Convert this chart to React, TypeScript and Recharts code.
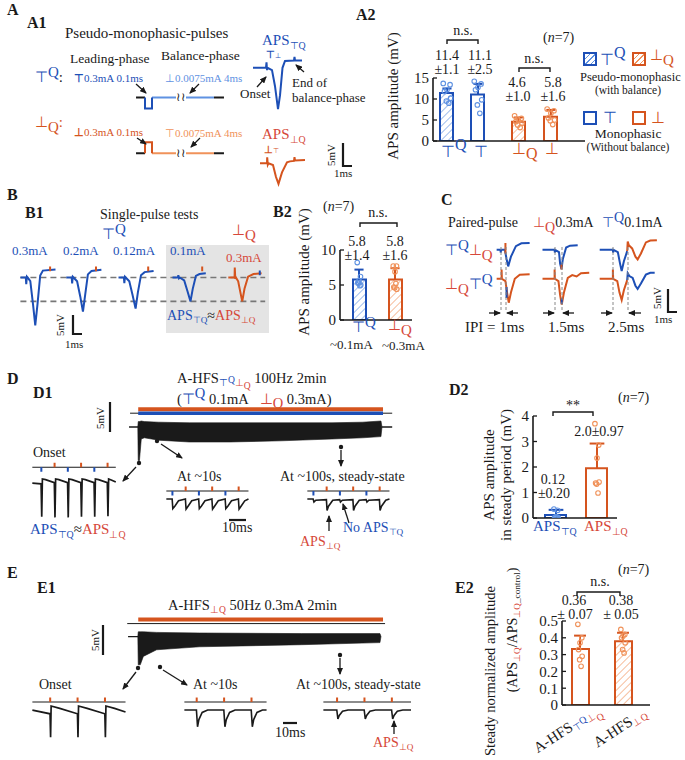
import React from "react";
import { ComposedChart, Line, Area, Bar, Scatter, XAxis, YAxis, ReferenceLine } from "recharts";

const F = "'Liberation Serif','Times New Roman',Times,serif";
const BLUE = "#1d4fb6";
const LBLUE = "#5f92e2";
const ORANGE = "#d5541e";
const LORANGE = "#f0925a";
const RED = "#d6483a";
const INK = "#1a1a1a";

type Pt = { t: number; v: number };

// ---------------- A1 data ----------------
const protoPre: Pt[] = [{ t: 0.2, v: 0 }, { t: 1.1, v: 0 }];
const protoLeadTQ: Pt[] = [{ t: 1.1, v: 0 }, { t: 1.1, v: -1 }, { t: 1.8, v: -1 }, { t: 1.8, v: 0 }];
const protoLeadBQ: Pt[] = [{ t: 1.1, v: 0 }, { t: 1.1, v: 1 }, { t: 1.8, v: 1 }, { t: 1.8, v: 0 }];
const protoBal: Pt[] = [{ t: 1.8, v: 0 }, { t: 8.0, v: 0 }];
const protoPost: Pt[] = [{ t: 8.0, v: 0 }, { t: 9.0, v: 0 }];
const apsTQ: Pt[] = [{ t: 0, v: 0 }, { t: 1.3, v: 0 }, { t: 1.35, v: 1.2 }, { t: 1.4, v: -0.5 }, { t: 1.45, v: 0 }, { t: 1.9, v: -0.5 }, { t: 2.2, v: -4 }, { t: 2.5, v: -9 }, { t: 2.7, v: -6 }, { t: 2.95, v: 0 }, { t: 3.2, v: 1.5 }, { t: 4.1, v: 1.6 }, { t: 4.15, v: 2.4 }, { t: 4.2, v: 1.6 }, { t: 4.9, v: 1.6 }];
const apsBQ: Pt[] = [{ t: 0, v: 0 }, { t: 0.7, v: 0 }, { t: 0.72, v: 1.3 }, { t: 0.78, v: -0.3 }, { t: 0.85, v: 0 }, { t: 1.3, v: -0.4 }, { t: 1.6, v: -3 }, { t: 1.85, v: -4.5 }, { t: 2.2, v: -2 }, { t: 2.7, v: 0.2 }, { t: 3.0, v: 0.4 }, { t: 3.4, v: 0.5 }, { t: 3.45, v: 1.3 }, { t: 3.5, v: 0.6 }, { t: 4.5, v: 0.7 }];

// ---------------- A2 data ----------------
const a2Cats = ["TQ", "T", "BQ", "B"];
const a2Means = [11.4, 11.1, 4.6, 5.8];
const a2Errs = [1.1, 2.5, 1.0, 1.6];
const a2Pos = [1, 2, 3.3, 4.35];
const a2Dots = [
  [13.7, 13.4, 12.2, 11.8, 10.2, 9.5, 9.0],
  [14.2, 13.6, 12.8, 12.2, 9.8, 8.6, 6.6],
  [6.0, 5.4, 5.0, 4.6, 4.2, 3.8, 3.2],
  [7.6, 7.2, 6.6, 5.5, 5.0, 4.8, 3.9],
];
const jitter = [-0.12, 0.1, 0.0, -0.08, 0.12, -0.02, 0.06];

// ---------------- B1 data ----------------
const b1T1: Pt[] = [{ t: 0, v: 0 }, { t: 0.6, v: 0 }, { t: 0.65, v: -1.8 }, { t: 0.72, v: 0.2 }, { t: 0.8, v: 0 }, { t: 1.1, v: -1 }, { t: 1.4, v: -7 }, { t: 1.65, v: -12.6 }, { t: 1.9, v: -7 }, { t: 2.2, v: 0.5 }, { t: 2.5, v: 1.8 }, { t: 3.9, v: 2.1 }];
const b1T2: Pt[] = [{ t: 0, v: 0 }, { t: 0.6, v: 0 }, { t: 0.65, v: -1.6 }, { t: 0.72, v: 0.2 }, { t: 0.8, v: 0 }, { t: 1.2, v: -1 }, { t: 1.55, v: -5 }, { t: 1.85, v: -9 }, { t: 2.1, v: -4.5 }, { t: 2.4, v: 0.8 }, { t: 2.8, v: 1.7 }, { t: 3.9, v: 2.0 }];
const b1T3: Pt[] = [{ t: 0, v: 0 }, { t: 0.6, v: 0 }, { t: 0.65, v: -1.5 }, { t: 0.72, v: 0.2 }, { t: 0.8, v: 0 }, { t: 1.2, v: -1 }, { t: 1.55, v: -4.5 }, { t: 1.9, v: -8.2 }, { t: 2.15, v: -4 }, { t: 2.5, v: 0.6 }, { t: 2.9, v: 1.4 }, { t: 3.9, v: 1.7 }];
const b1T4: Pt[] = [{ t: 0, v: 0 }, { t: 0.6, v: 0 }, { t: 0.65, v: 0.6 }, { t: 0.72, v: -0.2 }, { t: 0.8, v: 0 }, { t: 1.3, v: -0.8 }, { t: 1.65, v: -3.5 }, { t: 2.0, v: -6.3 }, { t: 2.25, v: -3 }, { t: 2.6, v: 0.4 }, { t: 3.0, v: 0.9 }, { t: 3.7, v: 1.1 }];
const b1T5: Pt[] = [{ t: 0, v: 0 }, { t: 0.7, v: 0 }, { t: 0.72, v: 2.6 }, { t: 0.78, v: -0.4 }, { t: 0.85, v: 0 }, { t: 1.1, v: -1 }, { t: 1.35, v: -4 }, { t: 1.55, v: -6.3 }, { t: 1.8, v: -3 }, { t: 2.2, v: 0.2 }, { t: 2.8, v: 0.9 }, { t: 3.7, v: 1.1 }];
const b1EndMark: Pt[] = [{ t: 3.3, v: 1.6 }, { t: 3.3, v: 2.9 }];
const b1EndMarkO: Pt[] = [{ t: 3.5, v: 0.6 }, { t: 3.5, v: 1.8 }];
const b1Offsets = [0, 5.1, 10.9, 16.9, 23.1];
const b1Levels = [0, -6.3];

// ---------------- B2 data ----------------
const b2Means = [5.8, 5.8];
const b2Errs = [1.4, 1.6];
const b2Dots = [
  [8.2, 6.2, 5.6, 5.3, 5.0, 5.3, 4.9],
  [7.7, 7.7, 6.9, 4.7, 4.4, 4.6, 5.2],
];

// ---------------- C data ----------------
const c1g1B: Pt[] = [{ t: 0, v: 0 }, { t: 0.7, v: 0 }, { t: 0.75, v: -0.6 }, { t: 0.8, v: 0 }, { t: 1.5, v: 0 }, { t: 1.8, v: -2 }, { t: 2.1, v: -3.6 }, { t: 2.6, v: -1.5 }, { t: 3.5, v: 0.8 }, { t: 4.5, v: 1.4 }, { t: 6, v: 1.5 }];
const c1g1O: Pt[] = [{ t: 1.6, v: 1.5 }, { t: 1.6, v: -0.8 }];
const c1g2B: Pt[] = [{ t: 0, v: 0 }, { t: 2.2, v: 0 }, { t: 2.25, v: -0.6 }, { t: 2.3, v: 0 }, { t: 3.0, v: -0.5 }, { t: 3.2, v: -3 }, { t: 3.45, v: -4.2 }, { t: 3.7, v: -2 }, { t: 4.3, v: 0.5 }, { t: 5.0, v: 0.9 }, { t: 6.4, v: 1.0 }];
const c1g2O: Pt[] = [{ t: 3.45, v: -3.2 }, { t: 3.45, v: -4.3 }];
const c1g3B: Pt[] = [{ t: 0, v: 0 }, { t: 2.4, v: 0 }, { t: 2.45, v: -0.6 }, { t: 2.5, v: 0 }, { t: 3.3, v: -0.5 }, { t: 3.7, v: -3 }, { t: 4.0, v: -4.6 }, { t: 4.4, v: -2.5 }, { t: 5.0, v: -0.3 }];
const c1g3O: Pt[] = [{ t: 5.0, v: -0.3 }, { t: 5.1, v: 1.8 }, { t: 5.3, v: 1.0 }, { t: 5.9, v: 0.3 }, { t: 6.5, v: -1.5 }, { t: 6.9, v: -2.1 }, { t: 7.5, v: -0.8 }, { t: 8.4, v: 1.6 }, { t: 9.2, v: 2.0 }, { t: 10.4, v: 2.1 }];
const c2g1O: Pt[] = [{ t: 0, v: 0 }, { t: 0.9, v: 0 }, { t: 0.9, v: 2.0 }, { t: 0.95, v: 0 }, { t: 1.6, v: -0.5 }, { t: 1.9, v: -3 }, { t: 2.2, v: -5.2 }, { t: 2.6, v: -3 }, { t: 3.3, v: 0 }, { t: 4.2, v: 0.9 }, { t: 6.0, v: 1.0 }];
const c2g1B: Pt[] = [{ t: 1.8, v: -1.8 }, { t: 1.8, v: -4.2 }];
const c2g2O: Pt[] = [{ t: 0, v: 0 }, { t: 2.2, v: 0 }, { t: 2.2, v: 2.0 }, { t: 2.25, v: 0 }, { t: 2.9, v: -0.5 }, { t: 3.2, v: -3.5 }, { t: 3.5, v: -5.6 }, { t: 3.9, v: -3 }, { t: 4.6, v: 0.2 }, { t: 5.4, v: 0.8 }, { t: 6.2, v: 0.5 }, { t: 7.0, v: 1.2 }, { t: 8.5, v: 1.3 }];
const c2g2B: Pt[] = [{ t: 3.5, v: -4.3 }, { t: 3.5, v: -5.4 }];
const c2g3O: Pt[] = [{ t: 0, v: 0 }, { t: 2.4, v: 0 }, { t: 2.4, v: 2.0 }, { t: 2.45, v: 0 }, { t: 3.2, v: -0.5 }, { t: 3.6, v: -3 }, { t: 4.0, v: -4.6 }, { t: 4.4, v: -2.5 }, { t: 5.0, v: -0.3 }];
const c2g3B: Pt[] = [{ t: 5.0, v: -0.3 }, { t: 5.1, v: 1.2 }, { t: 5.4, v: 0.6 }, { t: 6.0, v: 0.2 }, { t: 6.5, v: -1.5 }, { t: 6.9, v: -2.2 }, { t: 7.5, v: -1 }, { t: 8.4, v: 0.9 }, { t: 9.2, v: 1.3 }, { t: 10.0, v: 1.3 }];
const cOffsets = [0.36, 8.7, 19.1];

// ---------------- D1 data ----------------
const dBand = [
  { t: -0.2, r: [0, 0] }, { t: 0, r: [-5.6, 0.9] }, { t: 0.6, r: [-5.6, 0.9] }, { t: 1.5, r: [-2.0, 1.0] },
  { t: 3, r: [-1.8, 0.9] }, { t: 10, r: [-2.2, 0.8] }, { t: 25, r: [-2.5, 0.7] }, { t: 45, r: [-2.5, 0.7] },
  { t: 70, r: [-2.3, 0.7] }, { t: 95, r: [-2.0, 0.7] }, { t: 110, r: [-1.8, 0.8] }, { t: 119, r: [-1.6, 1.0] }, { t: 119.5, r: [0, 0] },
];
const dPre: Pt[] = [{ t: -4.5, v: 0 }, { t: 0, v: 0 }];
const dPost: Pt[] = [{ t: 119.5, v: 0 }, { t: 124.5, v: 0 }];
const dStimLine: Pt[] = [{ t: -4, v: 2.3 }, { t: 124.5, v: 2.3 }];
const dStimO: Pt[] = [{ t: 0, v: 2.95 }, { t: 120, v: 2.95 }];
const dStimB: Pt[] = [{ t: 0, v: 2.3 }, { t: 120, v: 2.3 }];
const dStimTQ = [3.4, 13.4, 23.4];
const dStimBQ = [8.4, 18.4, 28.4];
const dStimTQ2 = [2.3, 12.3, 22.3];
const dStimBQ2 = [7.3, 17.3, 27.3];
const dOnset: Pt[] = [{ t: 0, v: 0 }, { t: 3.3, v: -0.1 }, { t: 3.55, v: -5.6 }, { t: 3.8, v: 0.7 }, { t: 5, v: 0.6 }, { t: 8.3, v: 0.1 }, { t: 8.55, v: -5.7 }, { t: 8.8, v: 0.7 }, { t: 10, v: 0.6 }, { t: 13.3, v: 0.1 }, { t: 13.55, v: -5.7 }, { t: 13.8, v: 0.7 }, { t: 15, v: 0.6 }, { t: 18.3, v: 0.1 }, { t: 18.55, v: -5.6 }, { t: 18.8, v: 0.7 }, { t: 20, v: 0.6 }, { t: 23.3, v: 0.1 }, { t: 23.55, v: -5.6 }, { t: 23.8, v: 0.7 }, { t: 25, v: 0.6 }, { t: 28.3, v: 0.1 }, { t: 28.55, v: -5.5 }, { t: 28.8, v: 0.7 }, { t: 30, v: 0.5 }, { t: 31.5, v: 0.2 }];
const dTen: Pt[] = [{ t: 0, v: 0 }, { t: 2.2, v: 0 }, { t: 2.45, v: -1.6 }, { t: 3.2, v: -1.2 }, { t: 4.6, v: -0.3 }, { t: 7.2, v: 0 }, { t: 7.45, v: -1.7 }, { t: 8.2, v: -1.2 }, { t: 9.6, v: -0.3 }, { t: 12.2, v: 0 }, { t: 12.45, v: -1.6 }, { t: 13.2, v: -1.2 }, { t: 14.6, v: -0.3 }, { t: 17.2, v: 0 }, { t: 17.45, v: -1.7 }, { t: 18.2, v: -1.2 }, { t: 19.6, v: -0.3 }, { t: 22.2, v: 0 }, { t: 22.45, v: -1.6 }, { t: 23.2, v: -1.2 }, { t: 24.6, v: -0.3 }, { t: 27.2, v: 0 }, { t: 27.45, v: -1.7 }, { t: 28.2, v: -1.2 }, { t: 29.6, v: -0.3 }, { t: 31, v: 0 }];
const dHundred: Pt[] = [{ t: 0, v: 0 }, { t: 2.2, v: 0 }, { t: 2.5, v: -0.5 }, { t: 3.2, v: -0.2 }, { t: 7.2, v: -0.1 }, { t: 7.45, v: -1.9 }, { t: 8.0, v: -1.2 }, { t: 9.6, v: -0.2 }, { t: 12.2, v: -0.1 }, { t: 12.5, v: -0.5 }, { t: 13.2, v: -0.2 }, { t: 17.2, v: -0.1 }, { t: 17.45, v: -1.9 }, { t: 18.0, v: -1.2 }, { t: 19.6, v: -0.2 }, { t: 22.2, v: -0.1 }, { t: 22.5, v: -0.5 }, { t: 23.2, v: -0.2 }, { t: 27.2, v: -0.1 }, { t: 27.45, v: -1.9 }, { t: 28.0, v: -1.2 }, { t: 29.6, v: -0.2 }, { t: 31, v: 0 }];

// ---------------- D2 data ----------------
const d2Means = [0.12, 1.95];
const d2Errs = [0.2, 0.97];
const d2Dots = [
  [0.35, 0.3, 0.05, 0.02, 0.02, 0.03, 0.03],
  [3.7, 2.86, 2.35, 1.37, 1.41, 1.33, 0.98],
];

// ---------------- E1 data ----------------
const eBand = [
  { t: -0.2, r: [0, 0] }, { t: 0, r: [-4.7, 0.8] }, { t: 1, r: [-4.7, 0.8] }, { t: 2.5, r: [-3.3, 0.8] },
  { t: 9, r: [-2.2, 0.7] }, { t: 30, r: [-1.7, 0.6] }, { t: 80, r: [-1.35, 0.5] }, { t: 118.5, r: [-1.0, 0.5] }, { t: 119, r: [0, 0] },
];
const ePre: Pt[] = [{ t: -5, v: 0 }, { t: 0, v: 0 }];
const eStimLine: Pt[] = [{ t: -5.4, v: 2.17 }, { t: 121, v: 2.17 }];
const eStimO: Pt[] = [{ t: 0, v: 2.83 }, { t: 120, v: 2.83 }];
const eOnset: Pt[] = [{ t: 0, v: 0.3 }, { t: 12.9, v: -0.3 }, { t: 13.3, v: -4.2 }, { t: 13.7, v: 1.0 }, { t: 20, v: 0.6 }, { t: 32.9, v: -0.3 }, { t: 33.3, v: -4.2 }, { t: 33.7, v: 1.0 }, { t: 40, v: 0.6 }, { t: 52.9, v: -0.3 }, { t: 53.3, v: -4.2 }, { t: 53.7, v: 1.0 }, { t: 60, v: 0.6 }, { t: 68, v: 0 }];
const eTen: Pt[] = [{ t: 0, v: 0 }, { t: 8.8, v: 0 }, { t: 9.6, v: -2.8 }, { t: 10.6, v: -1.6 }, { t: 13, v: -0.4 }, { t: 17, v: 0 }, { t: 28.8, v: 0 }, { t: 29.6, v: -2.8 }, { t: 30.6, v: -1.6 }, { t: 33, v: -0.4 }, { t: 37, v: 0 }, { t: 48.8, v: 0 }, { t: 49.6, v: -2.8 }, { t: 50.6, v: -1.6 }, { t: 53, v: -0.4 }, { t: 57, v: 0 }, { t: 60, v: 0 }];
const eHundred: Pt[] = [{ t: 0, v: 0 }, { t: 9.8, v: 0 }, { t: 10.6, v: -1.5 }, { t: 11.6, v: -0.9 }, { t: 14, v: -0.2 }, { t: 18, v: 0 }, { t: 29.8, v: 0 }, { t: 30.6, v: -1.5 }, { t: 31.6, v: -0.9 }, { t: 34, v: -0.2 }, { t: 38, v: 0 }, { t: 49.8, v: 0 }, { t: 50.6, v: -1.5 }, { t: 51.6, v: -0.9 }, { t: 54, v: -0.2 }, { t: 58, v: 0 }, { t: 64, v: 0 }];
const eStimOnset = [13, 33, 53];
const eStimTen = [9, 29, 49];
const eStimHundred = [10, 30, 50];

// ---------------- E2 data ----------------
const e2Means = [0.333, 0.38];
const e2Errs = [0.08, 0.05];
const e2Dots = [
  [0.48, 0.4, 0.37, 0.33, 0.29, 0.27, 0.23],
  [0.45, 0.42, 0.41, 0.4, 0.37, 0.33, 0.31],
];

// ================= helpers =================
const shift = (d: Pt[], o: number): Pt[] => d.map((p) => ({ t: p.t + o, v: p.v }));
const stimPts = (ts: number[], v: number): Pt[] => ts.map((t) => ({ t, v }));

type Ser = { data: Pt[]; color: string; w?: number };
type Tk = { data: Pt[]; color: string; dir: number };

function TraceBox(props: { ox: number; oy: number; sx: number; sy: number; xd: [number, number]; yd: [number, number]; lines?: Ser[]; band?: any[]; ticks?: Tk[]; refs?: { y: number; x1: number; x2: number }[] }) {
  const { ox, oy, sx, sy, xd, yd, lines = [], band, ticks = [], refs = [] } = props;
  const left = ox + xd[0] * sx;
  const top = oy - yd[1] * sy;
  const width = (xd[1] - xd[0]) * sx;
  const height = (yd[1] - yd[0]) * sy;
  return (
    <div style={{ position: "absolute", left, top }}>
      <ComposedChart width={width} height={height} data={band} margin={{ top: 0, right: 0, bottom: 0, left: 0 }}>
        <XAxis type="number" dataKey="t" domain={xd} hide allowDataOverflow />
        <YAxis type="number" dataKey="v" domain={yd} hide allowDataOverflow />
        {refs.map((r, i) => (
          <ReferenceLine key={"r" + i} segment={[{ x: r.x1, y: r.y }, { x: r.x2, y: r.y }]} stroke="#777" strokeWidth={1.6} strokeDasharray="6 4" ifOverflow="visible" />
        ))}
        {band && <Area dataKey="r" type="linear" stroke={INK} strokeWidth={0.6} fill={INK} fillOpacity={1} isAnimationActive={false} dot={false} activeDot={false} />}
        {lines.map((s, i) => (
          <Line key={"l" + i} data={s.data} dataKey="v" type="linear" stroke={s.color} strokeWidth={s.w ?? 1.7} dot={false} activeDot={false} isAnimationActive={false} />
        ))}
        {ticks.map((k, i) => (
          <Scatter key={"k" + i} data={k.data} dataKey="v" isAnimationActive={false}
            shape={(p: any) => <line x1={p.cx} x2={p.cx} y1={p.cy} y2={p.cy + k.dir * 4.5} stroke={k.color} strokeWidth={2} />} />
        ))}
      </ComposedChart>
    </div>
  );
}

type BG = { x: number; name: string; y: number; err: number; fill: string; stroke: string; dots: number[]; dotColor: string };
function BarPanel(props: { axisX: number; yTop: number; plotW: number; plotH: number; xd: [number, number]; yd: [number, number]; ticks: number[]; groups: BG[]; barSize: number; fmt?: (v: number) => string }) {
  const { axisX, yTop, plotW, plotH, xd, yd, ticks, groups, barSize, fmt } = props;
  const yW = 36, mt = 16, mb = 12, xh = 1, mr = 6;
  const W = yW + plotW + mr, H = mt + plotH + xh + mb;
  const allX = groups.map((g) => g.x);
  const pxOf = (x: number) => axisX + ((x - xd[0]) / (xd[1] - xd[0])) * plotW;
  const unit = (xd[1] - xd[0]) / 4.9;
  const bandW = barSize + 12;
  const capW = barSize * 0.7;
  return (
    <>
      {groups.map((g, gi) => (
        <div key={"b" + gi} style={{ position: "absolute", left: pxOf(g.x) - bandW / 2, top: yTop - mt }}>
          <ComposedChart width={bandW} height={mt + plotH} data={[{ name: g.name, y: g.y }]} margin={{ top: mt, right: 0, bottom: 0, left: 0 }}>
            <XAxis type="category" dataKey="name" hide />
            <YAxis type="number" domain={yd} hide allowDataOverflow />
            <Bar dataKey="y" barSize={barSize} fill={g.fill} stroke={g.stroke} strokeWidth={2} isAnimationActive={false} />
          </ComposedChart>
        </div>
      ))}
      <div style={{ position: "absolute", left: axisX - yW, top: yTop - mt }}>
        <ComposedChart width={W} height={H} margin={{ top: mt, right: mr, bottom: mb, left: 0 }}>
          <XAxis type="number" dataKey="x" domain={xd} ticks={allX} allowDataOverflow height={xh} tick={false} tickLine={false}
            axisLine={{ stroke: INK, strokeWidth: 1.6 }} />
          <YAxis type="number" dataKey="y" domain={yd} ticks={ticks} interval={0} allowDataOverflow width={yW}
            tick={{ fontSize: 15, fontFamily: F, fill: INK }} tickLine={{ stroke: INK, strokeWidth: 1.3 }}
            axisLine={{ stroke: INK, strokeWidth: 1.6 }} tickSize={-4} tickMargin={8} tickFormatter={fmt} />
          {groups.map((g, gi) => (
            <Scatter key={"w" + gi} data={[{ x: g.x, y: g.y, cap: 0 }, { x: g.x, y: g.y + g.err, cap: 1 }]} dataKey="y"
              line={{ stroke: g.stroke, strokeWidth: 2 }} isAnimationActive={false}
              shape={(p: any) => (p.payload && p.payload.cap ? <line x1={p.cx - capW / 2} x2={p.cx + capW / 2} y1={p.cy} y2={p.cy} stroke={g.stroke} strokeWidth={2} /> : <g />)} />
          ))}
          {groups.map((g, gi) => (
            <Scatter key={"d" + gi} data={g.dots.map((v, k) => ({ x: g.x + jitter[k] * unit, y: v }))} dataKey="y" isAnimationActive={false}
              shape={(p: any) => <circle cx={p.cx} cy={p.cy} r={2.3} fill="none" stroke={g.dotColor} strokeWidth={1.1} />} />
          ))}
        </ComposedChart>
      </div>
    </>
  );
}

function T(props: { x: number; y: number; s?: number; c?: string; b?: boolean; a?: "l" | "c" | "r"; bg?: string; children: React.ReactNode }) {
  const { x, y, s = 14, c = INK, b = false, a = "l", bg, children } = props;
  const tr = a === "c" ? "translateX(-50%)" : a === "r" ? "translateX(-100%)" : undefined;
  return (
    <div style={{ position: "absolute", left: x, top: y - 0.84 * s, fontSize: s, lineHeight: 1, color: c, fontWeight: b ? 700 : 400, whiteSpace: "nowrap", fontFamily: F, transform: tr, background: bg }}>
      {children}
    </div>
  );
}
function R(props: { x: number; y: number; s?: number; c?: string; deg?: number; children: React.ReactNode }) {
  const { x, y, s = 14, c = INK, deg = -90, children } = props;
  return (
    <div style={{ position: "absolute", left: x, top: y, fontSize: s, lineHeight: 1.15, color: c, whiteSpace: "nowrap", fontFamily: F, transform: `translate(-50%,-50%) rotate(${deg}deg)`, textAlign: "center" }}>
      {children}
    </div>
  );
}
const TQ = ({ c = BLUE }: { c?: string }) => (
  <span style={{ color: c }}>⊤<span style={{ position: "relative", top: "-0.38em" }}>Q</span></span>
);
const BQ = ({ c = RED }: { c?: string }) => (
  <span style={{ color: c }}>⊥<span style={{ position: "relative", top: "0.32em" }}>Q</span></span>
);
const Sub = ({ children, c }: { children: React.ReactNode; c?: string }) => (
  <span style={{ fontSize: "0.66em", position: "relative", top: "0.35em", color: c }}>{children}</span>
);
const APS_T = ({ c = BLUE }: { c?: string }) => <span style={{ color: c }}>APS<Sub>⊤Q</Sub></span>;
const APS_B = ({ c = RED }: { c?: string }) => <span style={{ color: c }}>APS<Sub>⊥Q</Sub></span>;

const arrows: [number, number, number, number][] = [
  [136, 84, 146, 93], [199, 84, 190, 93], [137, 138, 146, 144], [200, 138, 191, 147],
  [257, 87, 266, 77], [304, 72, 296, 65],
  [136, 467, 123, 481], [161, 444, 182, 458], [341, 450, 341, 466], [349, 523, 343, 504], [329, 531, 329, 516],
  [136, 672, 123, 689], [163, 670, 187, 685], [340, 658, 340, 674], [394, 734, 394, 721],
  [489, 313, 500, 313], [518, 313, 507, 313], [543, 313, 554, 313], [574, 313, 563, 313], [601, 313, 612, 313], [641, 313, 629, 313],
];
const cDash = [501, 506, 555, 562, 613, 628];
const dots: [number, number][] = [[139, 463], [157, 441], [341, 447], [138, 668], [160, 667], [340, 655]];

export default function App() {
  return (
    <div style={{ position: "absolute", left: 0, top: 0, width: 685, height: 760, background: "#fff", overflow: "hidden", fontFamily: F, color: INK }}>
      <svg width={0} height={0} style={{ position: "absolute" }}>
        <defs>
          <pattern id="hb" width="5" height="5" patternUnits="userSpaceOnUse" patternTransform="rotate(45)">
            <rect width="5" height="5" fill="#fff" />
            <line x1="0" y1="0" x2="0" y2="5" stroke={LBLUE} strokeWidth="1.2" />
          </pattern>
          <pattern id="ho" width="5" height="5" patternUnits="userSpaceOnUse" patternTransform="rotate(45)">
            <rect width="5" height="5" fill="#fff" />
            <line x1="0" y1="0" x2="0" y2="5" stroke={LORANGE} strokeWidth="1.2" />
          </pattern>
        </defs>
      </svg>

      {/* gray box B1 */}
      <div style={{ position: "absolute", left: 166, top: 245, width: 103, height: 88, background: "#e4e4e4" }} />

      {/* ============ A ============ */}
      <T x={7} y={15} s={16} b>A</T>
      <T x={27} y={28} s={16} b>A1</T>
      <T x={65} y={39} s={15}>Pseudo-monophasic-pulses</T>
      <T x={70} y={63} s={13.5}>Leading-phase</T>
      <T x={161} y={60} s={13.5}>Balance-phase</T>
      <T x={35} y={83} s={15}><TQ />:</T>
      <T x={74} y={82} s={11} c={BLUE}><b>⊤</b>0.3mA 0.1ms</T>
      <T x={165} y={82} s={11} c={LBLUE}>⊥0.0075mA 4ms</T>
      <T x={35} y={128} s={15}><BQ c={ORANGE} /><span style={{ color: ORANGE }}>:</span></T>
      <T x={74} y={136} s={11} c={ORANGE}><b>⊥</b>0.3mA 0.1ms</T>
      <T x={165} y={137} s={11} c={LORANGE}>⊤0.0075mA 4ms</T>
      <TraceBox ox={134} oy={97} sx={10} sy={11} xd={[0, 9.3]} yd={[-1.3, 0.4]}
        lines={[{ data: protoPre, color: INK, w: 2 }, { data: protoBal, color: LBLUE, w: 2 }, { data: protoPost, color: INK, w: 2 }, { data: protoLeadTQ, color: BLUE, w: 2 }]} />
      <TraceBox ox={134} oy={153} sx={10} sy={11} xd={[0, 9.3]} yd={[-0.4, 1.3]}
        lines={[{ data: protoPre, color: INK, w: 2 }, { data: protoBal, color: LORANGE, w: 2 }, { data: protoPost, color: INK, w: 2 }, { data: protoLeadBQ, color: ORANGE, w: 2 }]} />
      <T x={181} y={101} s={12} a="c" bg="#fff">≀≀</T>
      <T x={181} y={157} s={12} a="c" bg="#fff">≀≀</T>
      <T x={262} y={46} s={15}><APS_T /></T>
      <T x={266} y={58} s={10} c={BLUE}><b>⊤</b><span style={{ fontSize: 7 }}>⊥</span></T>
      <TraceBox ox={253} oy={68} sx={10} sy={4.6} xd={[-0.2, 5.1]} yd={[-9.8, 3]} lines={[{ data: apsTQ, color: BLUE, w: 2 }]} />
      <T x={240} y={98} s={13}>Onset</T>
      <T x={292} y={87} s={13}>End of</T>
      <T x={292} y={102} s={13}>balance-phase</T>
      <T x={262} y={140} s={15}><APS_B /></T>
      <T x={264} y={153} s={10} c={ORANGE}><b>⊥</b><span style={{ fontSize: 7 }}>⊤</span></T>
      <TraceBox ox={260} oy={163} sx={10} sy={4.6} xd={[-0.2, 4.7]} yd={[-5.3, 2]} lines={[{ data: apsBQ, color: ORANGE, w: 2 }]} />
      <R x={331} y={155} s={11}>5mV</R>
      <T x={334} y={177} s={11}>1ms</T>

      {/* ============ A2 ============ */}
      <T x={356} y={20} s={16} b>A2</T>
      <T x={543} y={43} s={14}>(<i>n</i>=7)</T>
      <T x={463} y={36} s={14} a="c">n.s.</T>
      <T x={534} y={64} s={14} a="c">n.s.</T>
      <T x={447} y={61} s={14} a="c">11.4</T>
      <T x={447} y={75} s={14} a="c">±1.1</T>
      <T x={480} y={61} s={14} a="c">11.1</T>
      <T x={480} y={75} s={14} a="c">±2.5</T>
      <T x={517} y={88} s={14} a="c">4.6</T>
      <T x={518} y={102} s={14} a="c">±1.0</T>
      <T x={553} y={88} s={14} a="c">5.8</T>
      <T x={553} y={102} s={14} a="c">±1.6</T>
      <R x={394} y={96} s={15}>APS amplitude (mV)</R>
      <BarPanel axisX={433} yTop={78} plotW={152} plotH={63} xd={[0.55, 5.45]} yd={[0, 15]} ticks={[0, 5, 10, 15]} barSize={13}
        groups={a2Cats.map((c, i) => ({
          x: a2Pos[i], name: c, y: a2Means[i], err: a2Errs[i],
          fill: i === 0 ? "url(#hb)" : i === 2 ? "url(#ho)" : "#fff",
          stroke: i < 2 ? BLUE : ORANGE, dots: a2Dots[i], dotColor: i < 2 ? LBLUE : LORANGE,
        }))} />
      <T x={441} y={157} s={16}><TQ /></T>
      <T x={474} y={157} s={16} c={BLUE}>⊤</T>
      <T x={512} y={154} s={16}><BQ c={ORANGE} /></T>
      <T x={545} y={154} s={16} c={ORANGE}>⊥</T>
      {/* legend */}
      <div style={{ position: "absolute", left: 583, top: 52, width: 10, height: 10, border: `2px solid ${BLUE}`, background: `repeating-linear-gradient(135deg, #fff 0 3px, ${LBLUE} 3px 4px)` }} />
      <T x={600} y={65} s={16}><TQ /></T>
      <div style={{ position: "absolute", left: 632, top: 52, width: 10, height: 10, border: `2px solid ${ORANGE}`, background: `repeating-linear-gradient(135deg, #fff 0 3px, ${LORANGE} 3px 4px)` }} />
      <T x={650} y={61} s={15}><BQ c={ORANGE} /></T>
      <T x={580} y={81} s={12.5}>Pseudo-monophasic</T>
      <T x={628} y={95} s={11.5} a="c">(with balance)</T>
      <div style={{ position: "absolute", left: 583, top: 111, width: 10, height: 10, border: `2px solid ${BLUE}`, background: "#fff" }} />
      <T x={603} y={123} s={16} c={BLUE}>⊤</T>
      <div style={{ position: "absolute", left: 632, top: 111, width: 10, height: 10, border: `2px solid ${ORANGE}`, background: "#fff" }} />
      <T x={651} y={123} s={16} c={ORANGE}>⊥</T>
      <T x={628} y={138} s={13.5} a="c">Monophasic</T>
      <T x={628} y={152} s={11.5} a="c">(Without balance)</T>

      {/* ============ B1 ============ */}
      <T x={7} y={200} s={16} b>B</T>
      <T x={25} y={218} s={16} b>B1</T>
      <T x={100} y={220} s={14}>Single-pulse tests</T>
      <T x={102} y={240} s={15}><TQ /></T>
      <T x={232} y={236} s={15}><BQ /></T>
      <T x={12} y={255} s={13} c={BLUE}>0.3mA</T>
      <T x={63} y={255} s={13} c={BLUE}>0.2mA</T>
      <T x={113} y={255} s={13} c={BLUE}>0.12mA</T>
      <T x={170} y={255} s={13} c={BLUE}>0.1mA</T>
      <T x={226} y={262} s={13} c={RED}>0.3mA</T>
      <TraceBox ox={20} oy={277} sx={9} sy={3.8} xd={[-0.6, 27.7]} yd={[-13.5, 3.8]}
        refs={b1Levels.map((y) => ({ y, x1: 0, x2: 27.2 }))}
        lines={[
          { data: shift(b1T1, b1Offsets[0]), color: BLUE, w: 2 },
          { data: shift(b1T2, b1Offsets[1]), color: BLUE, w: 2 },
          { data: shift(b1T3, b1Offsets[2]), color: BLUE, w: 2 },
          { data: shift(b1T4, b1Offsets[3]), color: BLUE, w: 2 },
          { data: shift(b1T5, b1Offsets[4]), color: ORANGE, w: 2 },
          { data: shift(b1EndMark, b1Offsets[0]), color: ORANGE, w: 2 },
          { data: shift(b1EndMark, b1Offsets[1]), color: ORANGE, w: 2 },
          { data: shift(b1EndMark, b1Offsets[2]), color: ORANGE, w: 2 },
          { data: shift(b1EndMark, b1Offsets[3]), color: ORANGE, w: 2 },
          { data: shift(b1EndMarkO, b1Offsets[4]), color: BLUE, w: 2 },
        ]} />
      <T x={167} y={321} s={14}><APS_T />≈<APS_B /></T>
      <R x={60} y={325} s={11}>5mV</R>
      <T x={65} y={348} s={11}>1ms</T>

      {/* ============ B2 ============ */}
      <T x={273} y={217} s={16} b>B2</T>
      <T x={323} y={212} s={14}>(<i>n</i>=7)</T>
      <T x={378} y={218} s={14} a="c">n.s.</T>
      <T x={357} y={247} s={14} a="c">5.8</T>
      <T x={357} y={261} s={14} a="c">±1.4</T>
      <T x={395} y={247} s={14} a="c">5.8</T>
      <T x={395} y={261} s={14} a="c">±1.6</T>
      <R x={305} y={272} s={15}>APS amplitude (mV)</R>
      <BarPanel axisX={340} yTop={250} plotW={72} plotH={70} xd={[0.472, 2.472]} yd={[0, 10]} ticks={[0, 5, 10]} barSize={13}
        groups={b2Means.map((m, i) => ({
          x: i + 1, name: "b" + i, y: m, err: b2Errs[i], fill: i === 0 ? "url(#hb)" : "url(#ho)",
          stroke: i === 0 ? BLUE : ORANGE, dots: b2Dots[i], dotColor: i === 0 ? LBLUE : LORANGE,
        }))} />
      <T x={352} y={333} s={15}><TQ /></T>
      <T x={330} y={349} s={13}>~0.1mA</T>
      <T x={388} y={331} s={15}><BQ /></T>
      <T x={382} y={350} s={13}>~0.3mA</T>

      {/* ============ C ============ */}
      <T x={441} y={205} s={16} b>C</T>
      <T x={448} y={228} s={14}>Paired-pulse</T>
      <T x={533} y={228} s={14}><BQ /><span>0.3mA</span></T>
      <T x={602} y={228} s={14}><TQ /><span>0.1mA</span></T>
      <T x={445} y={256} s={15}><TQ /><BQ /></T>
      <T x={445} y={290} s={15}><BQ /><TQ /></T>
      <TraceBox ox={495} oy={250} sx={5.5} sy={4.6} xd={[-0.3, 31]} yd={[-5.5, 3]}
        lines={[
          { data: shift(c1g1B, cOffsets[0]), color: BLUE, w: 2 }, { data: shift(c1g1O, cOffsets[0]), color: ORANGE, w: 2 },
          { data: shift(c1g2B, cOffsets[1]), color: BLUE, w: 2 }, { data: shift(c1g2O, cOffsets[1]), color: ORANGE, w: 2 },
          { data: shift(c1g3B, cOffsets[2]), color: BLUE, w: 2 }, { data: shift(c1g3O, cOffsets[2]), color: ORANGE, w: 2 },
        ]} />
      <TraceBox ox={495} oy={279} sx={5.5} sy={4.6} xd={[-0.3, 31]} yd={[-6.5, 3]}
        lines={[
          { data: shift(c2g1O, cOffsets[0]), color: ORANGE, w: 2 }, { data: shift(c2g1B, cOffsets[0]), color: BLUE, w: 2 },
          { data: shift(c2g2O, cOffsets[1]), color: ORANGE, w: 2 }, { data: shift(c2g2B, cOffsets[1]), color: BLUE, w: 2 },
          { data: shift(c2g3O, cOffsets[2]), color: ORANGE, w: 2 }, { data: shift(c2g3B, cOffsets[2]), color: BLUE, w: 2 },
        ]} />
      <T x={465} y={333} s={15}>IPI = 1ms</T>
      <T x={548} y={333} s={15}>1.5ms</T>
      <T x={608} y={333} s={15}>2.5ms</T>
      <R x={657} y={298} s={11}>5mV</R>
      <T x={654} y={323} s={11}>1ms</T>

      {/* ============ D1 ============ */}
      <T x={7} y={384} s={16} b>D</T>
      <T x={33} y={398} s={16} b>D1</T>
      <T x={177} y={383} s={14.5}>A-HFS<Sub><TQ /><BQ /></Sub> 100Hz 2min</T>
      <T x={177} y={404} s={14.5}>(<TQ /> 0.1mA&nbsp;&nbsp;&nbsp;<BQ /> 0.3mA)</T>
      <R x={100} y={418} s={11}>5mV</R>
      <TraceBox ox={138} oy={427} sx={2.04} sy={6} xd={[-5.5, 126]} yd={[-6.5, 4]} band={dBand}
        lines={[
          { data: dPre, color: INK, w: 1.3 }, { data: dPost, color: INK, w: 1.3 },
          { data: dStimLine, color: INK, w: 1 }, { data: dStimO, color: ORANGE, w: 4 }, { data: dStimB, color: BLUE, w: 3.5 },
        ]} />
      <T x={33} y={458} s={14}>Onset</T>
      <TraceBox ox={32} oy={483} sx={2.65} sy={6} xd={[-0.5, 32.5]} yd={[-6.5, 4.2]}
        lines={[{ data: [{ t: 0, v: 2.67 }, { t: 31.5, v: 2.67 }], color: INK, w: 1.1 }, { data: dOnset, color: INK, w: 1.7 }]}
        ticks={[{ data: stimPts(dStimTQ, 2.67), color: BLUE, dir: 1 }, { data: stimPts(dStimBQ, 2.67), color: ORANGE, dir: -1 }]} />
      <T x={177} y={482} s={14}>At ~10s</T>
      <TraceBox ox={166} oy={499} sx={2.65} sy={6} xd={[-0.5, 31.5]} yd={[-3, 2.5]}
        lines={[{ data: [{ t: 0, v: 1.33 }, { t: 31, v: 1.33 }], color: INK, w: 1.1 }, { data: dTen, color: INK, w: 1.6 }]}
        ticks={[{ data: stimPts(dStimTQ2, 1.33), color: BLUE, dir: 1 }, { data: stimPts(dStimBQ2, 1.33), color: ORANGE, dir: -1 }]} />
      <T x={280} y={482} s={14}>At ~100s, steady-state</T>
      <TraceBox ox={307} oy={499} sx={2.65} sy={6} xd={[-0.5, 31.5]} yd={[-3, 2.5]}
        lines={[{ data: [{ t: 0, v: 1.33 }, { t: 31, v: 1.33 }], color: INK, w: 1.1 }, { data: dHundred, color: INK, w: 1.6 }]}
        ticks={[{ data: stimPts(dStimTQ2, 1.33), color: BLUE, dir: 1 }, { data: stimPts(dStimBQ2, 1.33), color: ORANGE, dir: -1 }]} />
      <T x={222} y={533} s={14}>10ms</T>
      <T x={30} y={535} s={15}><APS_T />≈<APS_B /></T>
      <T x={343} y={533} s={14} c={BLUE}>No <APS_T /></T>
      <T x={300} y={547} s={14}><APS_B /></T>

      {/* ============ D2 ============ */}
      <T x={449} y={395} s={16} b>D2</T>
      <T x={618} y={403} s={14}>(<i>n</i>=7)</T>
      <T x={573} y={411} s={14} a="c">**</T>
      <T x={553} y={485} s={14} a="c">0.12</T>
      <T x={554} y={499} s={14} a="c">±0.20</T>
      <T x={599} y={437} s={14} a="c">2.0±0.97</T>
      <R x={498} y={475} s={15}>APS amplitude<br />in steady period (mV)</R>
      <BarPanel axisX={533} yTop={416} plotW={84} plotH={102} xd={[0.439, 2.488]} yd={[0, 4]} ticks={[0, 1, 2, 3, 4]} barSize={21}
        groups={d2Means.map((m, i) => ({
          x: i + 1, name: "d" + i, y: m, err: d2Errs[i], fill: "#fff",
          stroke: i === 0 ? BLUE : ORANGE, dots: d2Dots[i], dotColor: i === 0 ? LBLUE : LORANGE,
        }))} />
      <T x={533} y={532} s={15}><APS_T /></T>
      <T x={584} y={532} s={15}><APS_B /></T>

      {/* ============ E1 ============ */}
      <T x={7} y={578} s={16} b>E</T>
      <T x={37} y={593} s={16} b>E1</T>
      <T x={168} y={610} s={14.5}>A-HFS<Sub c={RED}>⊥Q</Sub> 50Hz 0.3mA 2min</T>
      <R x={95} y={640} s={11}>5mV</R>
      <TraceBox ox={138} oy={637} sx={2.04} sy={6} xd={[-6, 126]} yd={[-5.5, 3.6]} band={eBand}
        lines={[{ data: ePre, color: INK, w: 1.3 }, { data: eStimLine, color: INK, w: 1 }, { data: eStimO, color: ORANGE, w: 4 }]} />
      <T x={39} y={690} s={14}>Onset</T>
      <TraceBox ox={32} oy={712} sx={1.37} sy={6} xd={[-1, 69.5]} yd={[-5, 3]}
        lines={[{ data: [{ t: 0, v: 1.67 }, { t: 68, v: 1.67 }], color: INK, w: 1.1 }, { data: eOnset, color: INK, w: 1.7 }]}
        ticks={[{ data: stimPts(eStimOnset, 1.67), color: ORANGE, dir: -1 }]} />
      <T x={193} y={690} s={14}>At ~10s</T>
      <TraceBox ox={184} oy={710} sx={1.37} sy={6} xd={[-1, 61]} yd={[-3.5, 2.5]}
        lines={[{ data: [{ t: 0, v: 1.33 }, { t: 60, v: 1.33 }], color: INK, w: 1.1 }, { data: eTen, color: INK, w: 1.6 }]}
        ticks={[{ data: stimPts(eStimTen, 1.33), color: ORANGE, dir: -1 }]} />
      <T x={296} y={690} s={14}>At ~100s, steady-state</T>
      <TraceBox ox={323} oy={710} sx={1.37} sy={6} xd={[-1, 65]} yd={[-3.5, 2.5]}
        lines={[{ data: [{ t: 0, v: 1.33 }, { t: 64, v: 1.33 }], color: INK, w: 1.1 }, { data: eHundred, color: INK, w: 1.6 }]}
        ticks={[{ data: stimPts(eStimHundred, 1.33), color: ORANGE, dir: -1 }]} />
      <T x={275} y={738} s={14}>10ms</T>
      <T x={373} y={748} s={14}><APS_B /></T>

      {/* ============ E2 ============ */}
      <T x={455} y={593} s={16} b>E2</T>
      <T x={618} y={575} s={14}>(<i>n</i>=7)</T>
      <T x={600} y={587} s={14} a="c">n.s.</T>
      <T x={574} y={606} s={14} a="c">0.36</T>
      <T x={575} y={620} s={14} a="c">± 0.07</T>
      <T x={621} y={606} s={14} a="c">0.38</T>
      <T x={621} y={620} s={14} a="c">± 0.05</T>
      <R x={490} y={671} s={14.5}>Steady normalized amplitude</R>
      <R x={513} y={630} s={14}>(APS<Sub c={RED}>⊥Q</Sub>/APS<Sub><span style={{ color: RED }}>⊥Q</span>_control</Sub>)</R>
      <BarPanel axisX={562} yTop={621} plotW={88} plotH={84} xd={[0.581, 2.628]} yd={[0, 0.5]} ticks={[0, 0.1, 0.2, 0.3, 0.4, 0.5]} barSize={17}
        fmt={(v: number) => (v === 0 ? "0" : String(v))}
        groups={e2Means.map((m, i) => ({
          x: i + 1, name: "e" + i, y: m, err: e2Errs[i], fill: i === 0 ? "#fff" : "url(#ho)",
          stroke: ORANGE, dots: e2Dots[i], dotColor: LORANGE,
        }))} />
      <R x={567} y={729} s={15} deg={-33}>A-HFS<Sub><TQ /><BQ /></Sub></R>
      <R x={620} y={728} s={15} deg={-33}>A-HFS<Sub c={RED}>⊥Q</Sub></R>

      {/* ============ overlay annotations ============ */}
      <svg width={685} height={760} style={{ position: "absolute", left: 0, top: 0, pointerEvents: "none" }}>
        <defs>
          <marker id="ah" markerWidth="7" markerHeight="6" refX="6" refY="3" orient="auto" markerUnits="userSpaceOnUse">
            <path d="M0,0 L7,3 L0,6 z" fill={INK} />
          </marker>
        </defs>
        {arrows.map(([x1, y1, x2, y2], i) => (
          <line key={i} x1={x1} y1={y1} x2={x2} y2={y2} stroke={INK} strokeWidth={1.3} markerEnd="url(#ah)" />
        ))}
        {cDash.map((x, i) => (
          <line key={"cd" + i} x1={x} x2={x} y1={247} y2={310} stroke="#888" strokeWidth={1} strokeDasharray="3 2" />
        ))}
        {dots.map(([x, y], i) => <circle key={"d" + i} cx={x} cy={y} r={2.2} fill={INK} />)}
        <g fill="none" stroke={INK} strokeWidth={1.4}>
          <path d="M447,44 V40 H478 V44" />
          <path d="M519,72 V68 H550 V72" />
          <path d="M360,227 V223 H397 V227" />
          <path d="M553,416 V412 H593 V416" />
          <path d="M577,596 V592 H620 V596" />
        </g>
        <g fill="none" stroke={INK} strokeWidth={2.2}>
          <path d="M343,143 V166 H352" />
          <path d="M73,315 V334 H82" />
          <path d="M668,289 V312 H677" />
          <path d="M110,402 V432" />
          <path d="M229,520 H246" />
          <path d="M103,625 V655" />
          <path d="M283,723 H297" />
        </g>
      </svg>
    </div>
  );
}
